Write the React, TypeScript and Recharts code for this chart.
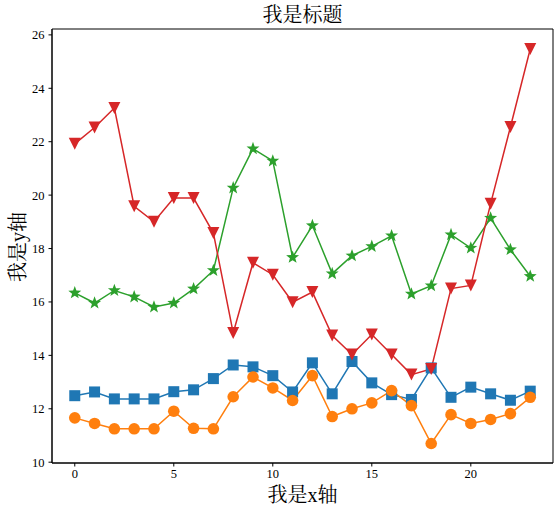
import React from 'react';
import { LineChart, Line, XAxis, YAxis, ReferenceArea } from 'recharts';

const xs = [0,1,2,3,4,5,6,7,8,9,10,11,12,13,14,15,16,17,18,19,20,21,22,23];
const blue = [12.49,12.63,12.37,12.37,12.37,12.64,12.71,13.13,13.64,13.57,13.24,12.63,13.72,12.56,13.77,12.97,12.53,12.35,13.53,12.43,12.81,12.56,12.32,12.66];
const orange = [11.66,11.45,11.25,11.25,11.25,11.91,11.27,11.25,12.45,13.19,12.78,12.31,13.24,11.71,12.0,12.22,12.68,12.12,10.70,11.78,11.45,11.6,11.82,12.43];
const green = [16.34,15.96,16.43,16.19,15.81,15.96,16.49,17.18,20.27,21.74,21.28,17.67,18.86,17.06,17.73,18.08,18.48,16.30,16.61,18.52,18.02,19.14,17.96,16.96];
const red = [21.92,22.53,23.26,19.58,19.0,19.89,19.89,18.58,14.84,17.47,17.02,15.99,16.37,14.74,14.03,14.78,14.03,13.28,13.49,16.50,16.62,19.68,22.55,25.47];
const xTicks = [0,5,10,15,20];
const yTicks = [10,12,14,16,18,20,22,24,26];
const xDomain = [-1.15, 24.15];
const yDomain = [9.97, 26.22];
const title = '我是标题';
const xLabel = '我是x轴';
const yLabel = '我是y轴';

const data = xs.map((x, i) => ({ x, a: blue[i], b: orange[i], c: green[i], d: red[i] }));

const FONT = "'Liberation Serif', 'Noto Serif CJK SC', 'Noto Sans CJK SC', serif";

const C_BLUE = '#1f77b4';
const C_ORANGE = '#ff7f0e';
const C_GREEN = '#2ca02c';
const C_RED = '#d62728';

const Square = (p: any) => {
  const { cx, cy, key } = p;
  if (cx == null || cy == null) return <g key={key} />;
  const s = 11;
  return <rect key={key} x={cx - s / 2} y={cy - s / 2} width={s} height={s} fill={C_BLUE} />;
};
const Circle = (p: any) => {
  const { cx, cy, key } = p;
  if (cx == null || cy == null) return <g key={key} />;
  return <circle key={key} cx={cx} cy={cy} r={5.8} fill={C_ORANGE} />;
};
const Star = (p: any) => {
  const { cx, cy, key } = p;
  if (cx == null || cy == null) return <g key={key} />;
  const R = 6.8, r = 2.8;
  const pts: string[] = [];
  for (let i = 0; i < 10; i++) {
    const ang = -Math.PI / 2 + (i * Math.PI) / 5;
    const rr = i % 2 === 0 ? R : r;
    pts.push(`${cx + rr * Math.cos(ang)},${cy + rr * Math.sin(ang)}`);
  }
  return <polygon key={key} points={pts.join(' ')} fill={C_GREEN} />;
};
const Tri = (p: any) => {
  const { cx, cy, key } = p;
  if (cx == null || cy == null) return <g key={key} />;
  const h = 6;
  return <polygon key={key} points={`${cx - h},${cy - h} ${cx + h},${cy - h} ${cx},${cy + h}`} fill={C_RED} />;
};

export default function App() {
  const tickStyle = { fontFamily: FONT, fontSize: 12.5, fill: '#000' };
  return (
    <div style={{ position: 'absolute', left: 0, top: 0, width: 560, height: 512, background: '#fff' }}>
      <LineChart width={560} height={512} data={data} margin={{ top: 29, right: 7, bottom: 19, left: 0 }}>
        <XAxis
          dataKey="x"
          type="number"
          domain={xDomain}
          ticks={xTicks}
          allowDataOverflow
          height={30}
          tickSize={3.5}
          tickMargin={3}
          stroke="#000"
          tick={tickStyle}
          tickLine={{ stroke: '#000' }}
          axisLine={{ stroke: '#000', strokeWidth: 1 }}
        />
        <YAxis
          type="number"
          domain={yDomain}
          ticks={yTicks}
          allowDataOverflow
          width={52}
          tickSize={3.5}
          tickMargin={4}
          stroke="#000"
          tick={tickStyle}
          tickLine={{ stroke: '#000' }}
          axisLine={{ stroke: '#000', strokeWidth: 1 }}
        />
        <ReferenceArea x1={xDomain[0]} x2={xDomain[1]} y1={yDomain[0]} y2={yDomain[1]} fill="none" fillOpacity={0} stroke="#000" strokeWidth={1} strokeOpacity={1} ifOverflow="visible" />
        <Line dataKey="a" stroke={C_BLUE} strokeWidth={1.5} dot={Square} activeDot={false} isAnimationActive={false} />
        <Line dataKey="b" stroke={C_ORANGE} strokeWidth={1.5} dot={Circle} activeDot={false} isAnimationActive={false} />
        <Line dataKey="c" stroke={C_GREEN} strokeWidth={1.5} dot={Star} activeDot={false} isAnimationActive={false} />
        <Line dataKey="d" stroke={C_RED} strokeWidth={1.5} dot={Tri} activeDot={false} isAnimationActive={false} />
      </LineChart>
      <div style={{ position: 'absolute', left: 0, width: 605, top: 3, textAlign: 'center', fontFamily: FONT, fontSize: 20, lineHeight: '24px', color: '#000' }}>{title}</div>
      <div style={{ position: 'absolute', left: 0, width: 605, top: 483, textAlign: 'center', fontFamily: FONT, fontSize: 20, lineHeight: '24px', color: '#000' }}>{xLabel}</div>
      <div style={{ position: 'absolute', left: 6, top: 235, width: 24, height: 24, display: 'flex', alignItems: 'center', justifyContent: 'center' }}>
        <div style={{ transform: 'rotate(-90deg)', whiteSpace: 'nowrap', fontFamily: FONT, fontSize: 20, lineHeight: '24px', color: '#000' }}>{yLabel}</div>
      </div>
    </div>
  );
}
